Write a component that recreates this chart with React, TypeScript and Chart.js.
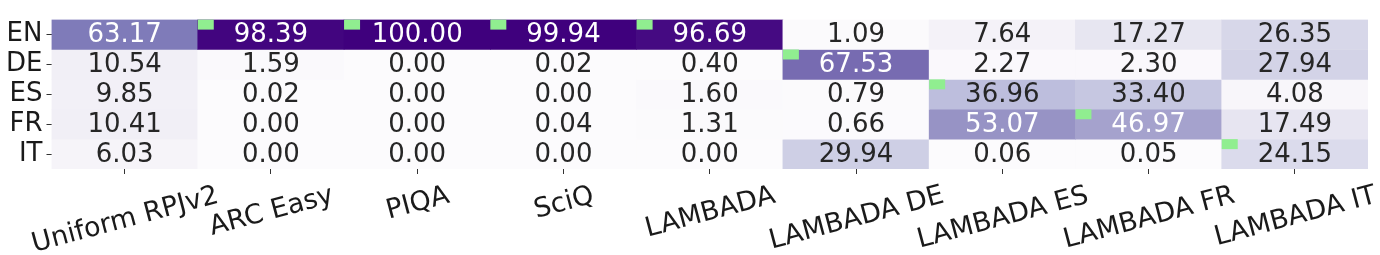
import React, { useEffect, useRef } from 'react';
import { Chart, registerables } from 'chart.js';

Chart.register(...registerables);

const rowLabels = ['EN', 'DE', 'ES', 'FR', 'IT'];
const columnLabels = ['Uniform RPJv2', 'ARC Easy', 'PIQA', 'SciQ', 'LAMBADA', 'LAMBADA DE', 'LAMBADA ES', 'LAMBADA FR', 'LAMBADA IT'];
const valuesEN = [63.17, 98.39, 100.0, 99.94, 96.69, 1.09, 7.64, 17.27, 26.35];
const valuesDE = [10.54, 1.59, 0.0, 0.02, 0.4, 67.53, 2.27, 2.3, 27.94];
const valuesES = [9.85, 0.02, 0.0, 0.0, 1.6, 0.79, 36.96, 33.4, 4.08];
const valuesFR = [10.41, 0.0, 0.0, 0.04, 1.31, 0.66, 53.07, 46.97, 17.49];
const valuesIT = [6.03, 0.0, 0.0, 0.0, 0.0, 29.94, 0.06, 0.05, 24.15];
// row index of the highlighted (green-marked) cell per column, -1 = none
const markedRow = [-1, 0, 0, 0, 0, 1, 2, 3, 4];

const allRows = [valuesEN, valuesDE, valuesES, valuesFR, valuesIT];

const FONT = '"DejaVu Sans", sans-serif';
const CELL_FONT_SIZE = 26;
const XLABEL_FONT_SIZE = 27;
const XLABEL_ROT = 15;

// matplotlib "Purples"
const purples = ['#fcfbfd', '#efedf5', '#dadaeb', '#bcbddc', '#9e9ac8', '#807dba', '#6a51a3', '#54278f', '#3f007d'];

function hexToRgb(h: string): number[] {
  return [parseInt(h.slice(1, 3), 16), parseInt(h.slice(3, 5), 16), parseInt(h.slice(5, 7), 16)];
}

function cmap(v: number): number[] {
  const t = Math.max(0, Math.min(1, v / 100));
  const pos = t * (purples.length - 1);
  const i = Math.min(purples.length - 2, Math.floor(pos));
  const f = pos - i;
  const a = hexToRgb(purples[i]);
  const b = hexToRgb(purples[i + 1]);
  return [0, 1, 2].map((k) => Math.round(a[k] + (b[k] - a[k]) * f));
}

function rgbStr(c: number[]): string {
  return `rgb(${c[0]},${c[1]},${c[2]})`;
}

function luminance(c: number[]): number {
  const lin = c.map((x) => {
    const s = x / 255;
    return s <= 0.03928 ? s / 12.92 : Math.pow((s + 0.055) / 1.055, 2.4);
  });
  return 0.2126 * lin[0] + 0.7152 * lin[1] + 0.0722 * lin[2];
}

const heatPlugin = {
  id: 'heatText',
  afterDatasetsDraw(chart: any) {
    const ctx = chart.ctx;
    ctx.save();
    // green markers
    chart.data.datasets.forEach((ds: any, r: number) => {
      const meta = chart.getDatasetMeta(r);
      meta.data.forEach((bar: any, c: number) => {
        if (markedRow[c] === r) {
          const left = bar.x - bar.width / 2;
          const top = Math.min(bar.y, bar.base);
          ctx.fillStyle = '#90ee90';
          ctx.fillRect(left, top, 16, 10);
        }
      });
    });
    // values
    ctx.font = `${CELL_FONT_SIZE}px ${FONT}`;
    ctx.textAlign = 'center';
    ctx.textBaseline = 'middle';
    chart.data.datasets.forEach((ds: any, r: number) => {
      const meta = chart.getDatasetMeta(r);
      meta.data.forEach((bar: any, c: number) => {
        const v = allRows[r][c];
        const col = cmap(v);
        ctx.fillStyle = luminance(col) < 0.408 ? '#ffffff' : '#262626';
        const cy = (bar.y + bar.base) / 2;
        ctx.fillText(v.toFixed(2), bar.x, cy + 1);
      });
    });
    ctx.restore();
  },
  afterDraw(chart: any) {
    const ctx = chart.ctx;
    const xs = chart.scales.x;
    const th = (XLABEL_ROT * Math.PI) / 180;
    ctx.save();
    ctx.font = `${XLABEL_FONT_SIZE}px ${FONT}`;
    ctx.fillStyle = '#1a1a1a';
    ctx.textAlign = 'center';
    ctx.textBaseline = 'alphabetic';
    const top = chart.chartArea.bottom + 5 + 4;
    const h = XLABEL_FONT_SIZE * 1.164;
    columnLabels.forEach((lab, i) => {
      const w = ctx.measureText(lab).width;
      const H = w * Math.sin(th) + h * Math.cos(th);
      const cx = xs.getPixelForValue(i);
      const cy = top + H / 2;
      ctx.save();
      ctx.translate(cx, cy);
      ctx.rotate(-th);
      ctx.fillText(lab, 0, XLABEL_FONT_SIZE * 0.346);
      ctx.restore();
    });
    ctx.restore();
  },
};

export default function App() {
  const ref = useRef<HTMLCanvasElement | null>(null);
  useEffect(() => {
    if (!ref.current) return;
    const datasets = allRows.map((vals, r) => ({
      label: rowLabels[r],
      data: vals.map(() => [r - 0.5, r + 0.5]),
      backgroundColor: vals.map((v) => rgbStr(cmap(v))),
      borderWidth: 0,
      grouped: false,
      categoryPercentage: 1,
      barPercentage: 1,
    }));
    const chart = new Chart(ref.current, {
      type: 'bar',
      data: { labels: columnLabels, datasets: datasets as any },
      plugins: [heatPlugin],
      options: {
        animation: false,
        responsive: false,
        devicePixelRatio: 1,
        layout: { padding: { left: 0, top: 8, right: 12, bottom: 0 } },
        plugins: { legend: { display: false }, tooltip: { enabled: false } },
        scales: {
          x: {
            type: 'category',
            offset: true,
            border: { display: false },
            grid: { offset: false, drawOnChartArea: false, drawTicks: true, tickLength: 5, color: '#333333', lineWidth: 1 },
            ticks: { display: false },
            afterFit: (s: any) => {
              s.height = 86;
            },
          },
          y: {
            type: 'linear',
            reverse: true,
            min: -0.5,
            max: 4.5,
            border: { display: false },
            grid: { drawOnChartArea: false, drawTicks: true, tickLength: 5, color: '#333333', lineWidth: 1 },
            afterBuildTicks: (s: any) => {
              s.ticks = rowLabels.map((_, i) => ({ value: i }));
            },
            ticks: {
              autoSkip: false,
              padding: 4,
              color: '#1a1a1a',
              font: { family: FONT, size: 26 },
              callback: (v: any) => rowLabels[v as number] ?? '',
            },
            afterFit: (s: any) => {
              s.width = 51.5;
            },
          },
        },
      } as any,
    });
    return () => chart.destroy();
  }, []);
  return (
    <canvas
      ref={ref}
      width={1380}
      height={255}
      style={{ position: 'absolute', left: 0, top: 0, width: 1380, height: 255 }}
    />
  );
}
